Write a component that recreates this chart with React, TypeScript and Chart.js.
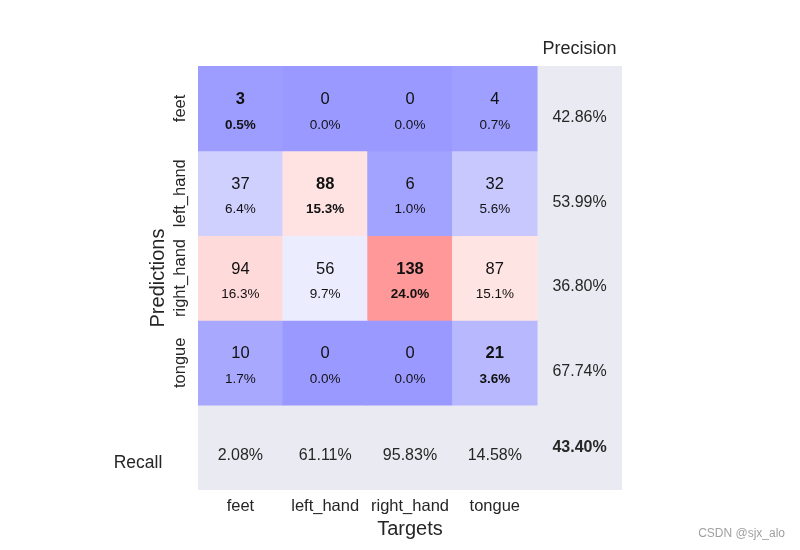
import { useEffect, useRef } from "react";
import { Chart, registerables } from "chart.js";

Chart.register(...registerables);

const targets = ["feet", "left_hand", "right_hand", "tongue"];
const predictions = ["feet", "left_hand", "right_hand", "tongue"];
const rowFeet = [3, 0, 0, 4];
const rowLeftHand = [37, 88, 6, 32];
const rowRightHand = [94, 56, 138, 87];
const rowTongue = [10, 0, 0, 21];
const matrix = [rowFeet, rowLeftHand, rowRightHand, rowTongue];

const FONT = "'Liberation Sans', Arial, sans-serif";
const TEXT = "#262626";
const GREY = "#eaeaf2";

const total = matrix.reduce((s, r) => s + r.reduce((a, b) => a + b, 0), 0);
const vmax = Math.max(...matrix.flat());
const vmin = Math.min(...matrix.flat());

// bwr colormap blended with white at alpha 0.4
function cellColor(v: number): string {
  const t = (v - vmin) / (vmax - vmin);
  let r: number, g: number, b: number;
  if (t <= 0.5) {
    r = 2 * t; g = 2 * t; b = 1;
  } else {
    r = 1; g = 2 - 2 * t; b = 2 - 2 * t;
  }
  const mix = (c: number) => Math.round(255 * (1 - 0.4 * (1 - c)));
  return `rgb(${mix(r)},${mix(g)},${mix(b)})`;
}

export default function App() {
  const ref = useRef<HTMLCanvasElement | null>(null);

  useEffect(() => {
    if (!ref.current) return;
    const n = targets.length;

    const datasets: any[] = matrix.map((row, r) => ({
      label: predictions[r],
      data: row.map((_, c) => ({ x: c, y: [r, r + 1] })),
      backgroundColor: row.map((v) => cellColor(v)),
      borderWidth: 0,
      barPercentage: 1,
      categoryPercentage: 1,
      grouped: false,
    }));
    datasets.push({
      label: "metrics",
      data: [
        ...targets.map((_, c) => ({ x: c, y: [n, n + 1] })),
        { x: n, y: [0, n + 1] },
      ],
      backgroundColor: GREY,
      borderWidth: 0,
      barPercentage: 1,
      categoryPercentage: 1,
      grouped: false,
    });

    const annot = {
      id: "annot",
      afterDatasetsDraw(chart: any) {
        const ctx = chart.ctx;
        const xs = chart.scales.x;
        const ys = chart.scales.y;
        const ca = chart.chartArea;
        const rowC = (r: number) => (ys.getPixelForValue(r) + ys.getPixelForValue(r + 1)) / 2;
        ctx.save();
        ctx.textAlign = "center";
        ctx.textBaseline = "middle";

        const colSums = targets.map((_, c) => matrix.reduce((s, row) => s + row[c], 0));
        let diag = 0;
        matrix.forEach((row, r) => {
          const cy = rowC(r);
          const rowSum = row.reduce((a, b) => a + b, 0);
          row.forEach((v, c) => {
            const cx = xs.getPixelForValue(c);
            const bold = r === c ? "bold " : "";
            ctx.fillStyle = "#111";
            ctx.font = `${bold}16.5px ${FONT}`;
            ctx.fillText(String(v), cx, cy - 9);
            ctx.font = `${bold}13.5px ${FONT}`;
            ctx.fillText(((v / total) * 100).toFixed(1) + "%", cx, cy + 16.5);
            if (r === c) diag += v;
          });
          // precision
          ctx.fillStyle = TEXT;
          ctx.font = `16px ${FONT}`;
          ctx.fillText(((row[r] / rowSum) * 100).toFixed(2) + "%", xs.getPixelForValue(n), cy + 9);
        });
        // recall
        const ry = rowC(n);
        ctx.fillStyle = TEXT;
        ctx.font = `16px ${FONT}`;
        colSums.forEach((s, c) => {
          ctx.fillText(((matrix[c][c] / s) * 100).toFixed(2) + "%", xs.getPixelForValue(c), ry + 8);
        });
        ctx.font = `bold 16px ${FONT}`;
        ctx.fillText(((diag / total) * 100).toFixed(2) + "%", xs.getPixelForValue(n), ry - 0.5);

        // headers
        ctx.font = `18px ${FONT}`;
        ctx.fillText("Precision", xs.getPixelForValue(n), ca.top - 17);
        ctx.font = `17.5px ${FONT}`;
        ctx.fillText("Recall", ca.left - 60, ry + 16);

        // y tick labels (rotated)
        ctx.font = `16.5px ${FONT}`;
        predictions.forEach((p, r) => {
          ctx.save();
          ctx.translate(ca.left - 18, rowC(r));
          ctx.rotate(-Math.PI / 2);
          ctx.fillText(p, 0, 0);
          ctx.restore();
        });
        // y title
        ctx.save();
        ctx.font = `20px ${FONT}`;
        ctx.translate(ca.left - 40, (ca.top + ca.bottom) / 2);
        ctx.rotate(-Math.PI / 2);
        ctx.fillText("Predictions", 0, 0);
        ctx.restore();

        // watermark
        ctx.font = `12px ${FONT}`;
        ctx.fillStyle = "#a0a0a0";
        ctx.textAlign = "right";
        ctx.fillText("CSDN @sjx_alo", 785, 534);
        ctx.restore();
      },
    };

    const chart = new Chart(ref.current, {
      type: "bar",
      data: { labels: [...targets, ""], datasets },
      options: {
        animation: false,
        responsive: false,
        layout: { padding: { left: 198, right: 178, top: 66, bottom: 0 } },
        plugins: { legend: { display: false }, tooltip: { enabled: false } },
        scales: {
          x: {
            type: "category",
            offset: true,
            grid: { display: false, drawTicks: false },
            border: { display: false },
            ticks: { color: TEXT, font: { size: 16.5, family: FONT }, padding: 7, maxRotation: 0, autoSkip: false },
            title: { display: true, text: "Targets", color: TEXT, font: { size: 20, family: FONT }, padding: { top: 0, bottom: 9 } },
            afterFit: (s: any) => { s.height = 60; },
          },
          y: { type: "linear", min: 0, max: 5, reverse: true, display: false },
        },
      },
      plugins: [annot],
    });
    return () => chart.destroy();
  }, []);

  return (
    <div style={{ position: "absolute", left: 0, top: 0, width: 800, height: 550, background: "#fff" }}>
      <canvas ref={ref} width={800} height={550} />
    </div>
  );
}
